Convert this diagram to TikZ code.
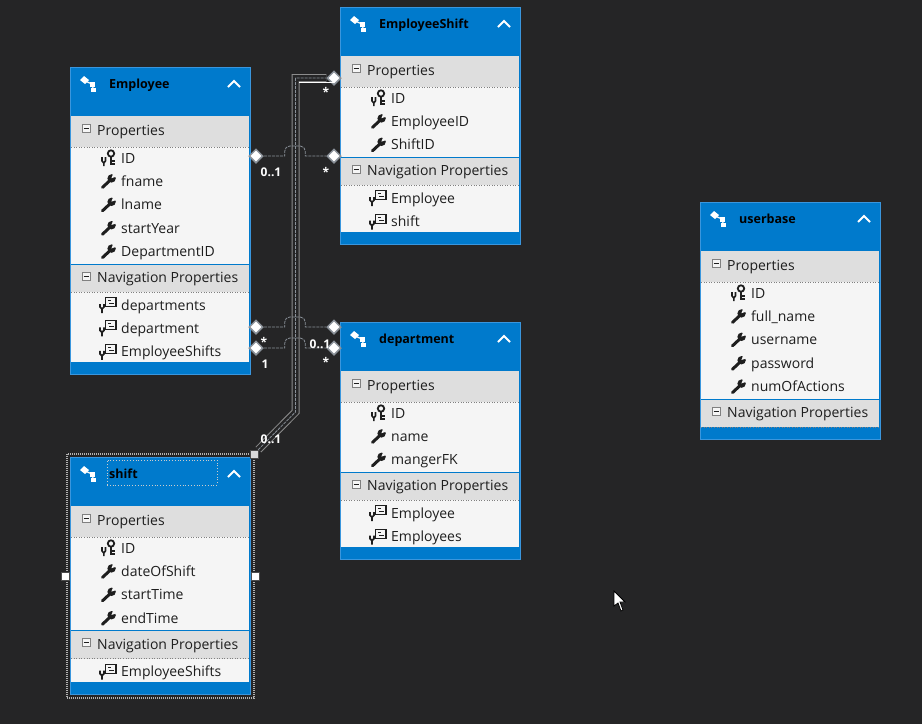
\documentclass[tikz,border=0pt]{standalone}
\usepackage{fontspec}
\setmainfont{Open Sans}
\usetikzlibrary{shapes,arrows,positioning}

\definecolor{canvasbg}{HTML}{252526}
\definecolor{vsblue}{HTML}{007ACC}
\definecolor{vsedge}{HTML}{3A96DD}
\definecolor{bandbg}{HTML}{DEDEDE}
\definecolor{rowbg}{HTML}{F5F5F5}
\definecolor{inkcol}{HTML}{1E1E1E}
\definecolor{linkcol}{HTML}{8A9199}

\tikzset{
	boxouter/.style={draw=vsedge,fill=vsblue,line width=1pt,anchor=north west,inner sep=0pt,minimum width=180pt},
	band/.style={fill=bandbg,anchor=north west,inner sep=0pt,minimum width=178pt},
	rowarea/.style={fill=rowbg,anchor=north west,inner sep=0pt,minimum width=178pt},
	titletext/.style={anchor=west,inner sep=0pt,text height=9pt,text depth=2pt,font=\fontsize{12.5}{14}\bfseries,text=black},
	rowtext/.style={anchor=west,inner sep=0pt,text height=10pt,text depth=3pt,font=\fontsize{14}{16}\selectfont,text=inkcol},
	minusbox/.style={draw=gray,fill=rowbg,minimum size=8pt,inner sep=0pt,line width=.7pt},
	endmark/.style={diamond,draw=linkcol,fill=white,line width=1.5pt,minimum size=14pt,inner sep=0pt},
	handle/.style={draw=black!70,fill=white,line width=.8pt,minimum size=8pt,inner sep=0pt},
	mult/.style={inner sep=0pt,font=\fontsize{12}{14}\bfseries,text=white},
	dashlink/.style={draw=linkcol,line width=.8pt,dash pattern=on 3pt off 1pt},
	pics/shapeicon/.style={code={
		\fill[white] (-8,-4) -- (-4,-8) -- (1,-4) -- (-3,0) -- cycle;
		\draw[white,line width=1.2pt] (-3,-3) -- (4,0) -- (5,4);
		\fill[white] (1.5,-2) rectangle (6.5,2.5);
		\fill[white] (3,4) rectangle (8,8);
	}},
	pics/wrench/.style={code={
		\draw[inkcol,line width=3pt,line cap=round] (-5.5,6) -- (2,-1);
		\fill[inkcol] (3.6,-3) circle (4.2pt);
		\fill[rowbg] (3.4,-3.2) -- (5.5,-8.5) -- (9,-5) -- cycle;
	}},
	pics/keyicon/.style={code={
		\draw[inkcol,line width=1.8pt] (3,-4.5) circle (3.2pt);
		\draw[inkcol,line width=2pt] (3,-1.5) -- (3,7) (3,2.5) -- (6.5,2.5) (3,5.5) -- (6.5,5.5);
		\draw[inkcol,line width=1.6pt] (-6,-1) -- (-6,3) (-2.5,-1) -- (-2.5,3) (-6,3) -- (-4.2,5) -- (-2.5,3) (-4.2,5) -- (-4.2,8);
	}},
	pics/navicon/.style={code={
		\draw[inkcol,line width=1.1pt] (-2.5,-7.5) rectangle (8,1.5);
		\draw[inkcol,line width=1.1pt] (0,-4.5) -- (3,-4.5) (1,-1.5) -- (6,-1.5);
		\draw[inkcol,line width=1.7pt] (-8,-1) -- (-8,2) -- (-6,4) -- (-4,2) -- (-4,-1) (-6,4) -- (-6,8);
	}},
}

% #1 name, #2 x, #3 y, #4 number of properties, #5 number of nav rows, #6 title, #7 properties, #8 nav rows
\newcommand{\erbox}[8]{
	\pgfmathsetmacro{\boxh}{80+#4*23.4+28+#5*23.4+12}
	\pgfmathsetmacro{\navtop}{#3+80+#4*23.4}
	\node[boxouter,minimum height=\boxh pt](#1) at (#2,#3){};
	\node[band,minimum height=31pt](#1Band) at (#2+1,#3+49){};
	\node[rowarea,minimum height=#4*23.4pt](#1Rows) at (#2+1,#3+80){};
	\node[band,minimum height=28pt](#1NavBand) at (#2+1,\navtop){};
	\ifnum#5>0
		\node[rowarea,minimum height=#5*23.4pt](#1NavRows) at (#2+1,\navtop+28){};
	\fi
	\draw[gray,line width=.6pt,dotted] (#2+1,#3+80) -- ++(178,0);
	\draw[gray,line width=.6pt,dotted] (#2+1,\navtop+28) -- ++(178,0);
	\draw[vsblue,line width=1pt] (#2+1,\navtop) -- ++(178,0);
	\pic at (#2+18,#3+17) {shapeicon};
	\node[titletext](#1Title) at (#2+39,#3+17.5){#6};
	\draw[white,line width=2pt] (#2+158,#3+20) -- (#2+164,#3+14) -- (#2+170,#3+20);
	\node[minusbox] at (#2+16,#3+61){};
	\draw[inkcol,line width=.8pt] (#2+13.5,#3+61) -- (#2+18.5,#3+61);
	\node[rowtext] at (#2+27,#3+65){Properties};
	\node[minusbox] at (#2+16,\navtop+12){};
	\draw[inkcol,line width=.8pt] (#2+13.5,\navtop+12) -- (#2+18.5,\navtop+12);
	\node[rowtext] at (#2+27,\navtop+15){Navigation Properties};
	\foreach \p [count=\n] in {#7}{
		\node[rowtext](#1P\n) at (#2+51,#3+92.5+\n*23.4-23.4){\p};
		\ifnum\n=1
			\pic at (#2+38,#3+91+\n*23.4-23.4) {keyicon};
		\else
			\pic at (#2+38,#3+91+\n*23.4-23.4) {wrench};
		\fi
	}
	\ifnum#5>0
		\foreach \p [count=\n] in {#8}{
			\node[rowtext](#1N\n) at (#2+51,\navtop+42.5+\n*23.4-23.4){\p};
			\pic at (#2+38,\navtop+41+\n*23.4-23.4) {navicon};
		}
	\fi
}

% dashed link with a hop over the double line
\newcommand{\hoplink}[2]{
	\draw[dashlink] (#1.east) -- ++(21,0) [rounded corners=5pt] -- ++(0,-10) -- ++(20.5,0) [sharp corners] -- ++(0,10) -- (#2.west);
}

\begin{document}
\begin{tikzpicture}[x=1pt,y=-1pt]
	\fill[canvasbg] (0,0) rectangle (922,724);
	\useasboundingbox (0,0) rectangle (922,724);

	\draw[gray!60,line width=2.5pt,dash pattern=on 1pt off 1pt] (67,454) rectangle (254,698);

	\erbox{Employee}{70}{67}{5}{3}{Employee}{ID,fname,lname,startYear,DepartmentID}{departments,department,EmployeeShifts}
	\erbox{EmployeeShift}{340}{7}{3}{2}{EmployeeShift}{ID,EmployeeID,ShiftID}{Employee,shift}
	\erbox{department}{340}{322}{3}{2}{department}{ID,name,mangerFK}{Employee,Employees}
	\erbox{userbase}{700}{202}{5}{0}{userbase}{ID,full\_name,username,password,numOfActions}{}
	\erbox{shift}{70}{457}{4}{1}{shift}{ID,dateOfShift,startTime,endTime}{EmployeeShifts}

	\node[draw=white!80!black,dotted,line width=.8pt,minimum width=110pt,minimum height=25pt,inner sep=0pt](shiftTitleBox) at (162,472.5){};

	\node[handle](shiftLeft) at (65,576){};
	\node[handle](shiftRight) at (255,576){};
	\node[handle,fill=white!85!black](shiftCorner) at (254,454){};

	\node[endmark](empA) at (256,156){};
	\node[endmark](esA) at (334,156){};
	\node[endmark](empB) at (256,327){};
	\node[endmark](depB) at (334,327){};
	\node[endmark](empC) at (256,348){};
	\node[endmark](depC) at (334,348){};
	\node[endmark](esB) at (334,78){};

	\coordinate (bendLow) at (295.5,412);
	\coordinate (bendHigh) at (295.5,78);
	\coordinate (whiteLow) at (299,82);

	\draw[gray!90,line width=1pt,double=canvasbg,double distance=6pt] (shiftCorner) -- (bendLow) -- (bendHigh) -- (esB.west);
	\draw[linkcol,line width=.8pt,dash pattern=on 3pt off 1pt] (shiftCorner) -- (bendLow) -- (bendHigh) -- (esB.west);
	\draw[white,line width=1pt] (whiteLow) -- (esB |- whiteLow);

	\hoplink{empA}{esA}
	\hoplink{empB}{depB}
	\hoplink{empC}{depC}

	\node[mult] at (271,172){0..1};
	\node[mult] at (326,172){*};
	\node[mult] at (326,92){*};
	\node[mult] at (264,342){*};
	\node[mult] at (265,364){1};
	\node[mult] at (320,344){0..1};
	\node[mult] at (326,362){*};
	\node[mult] at (271,439){0..1};

	% mouse pointer
	\draw[black,fill=white,line width=.8pt] (614,591) -- (614,606) -- (618,603) -- (621,611) -- (623,610) -- (620,602) -- (625,602) -- cycle;
\end{tikzpicture}
\end{document}
